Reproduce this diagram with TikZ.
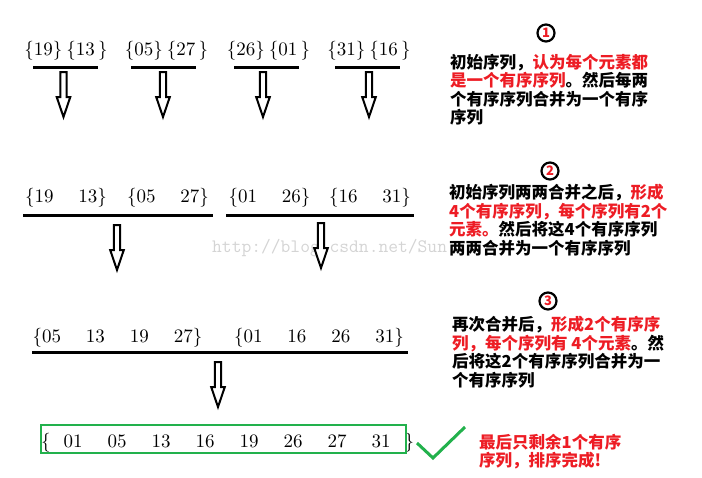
\documentclass[tikz,border=0pt]{standalone}
\usepackage{fontspec}
\newfontfamily\cjk{Noto Sans CJK SC}
\newfontfamily\numfont{lmroman10-regular.otf}
\definecolor{pred}{RGB}{237,28,36}
\definecolor{pgreen}{RGB}{34,177,76}
\newcommand\gp{\hspace{25pt}}

\begin{document}
\begin{tikzpicture}[x=1pt,y=-1pt,
   num/.style={inner sep=0pt,anchor=base,font=\numfont\fontsize{19}{20}\selectfont},
   notetext/.style={inner sep=0pt,anchor=north west,align=left,font=\cjk\bfseries\fontsize{16.5}{18.5}\selectfont},
   badge/.style={circle,draw,line width=2.2pt,minimum size=17pt,inner sep=0pt,text=pred,font=\cjk\bfseries\fontsize{13}{13}\selectfont},
   bar/.style={line width=3pt},
   blockdown/.pic={\draw[line width=2pt,fill=white] (-3.2,0) -- (-3.2,25) -- (-6.8,25) -- (0,45) -- (6.8,25) -- (3.2,25) -- (3.2,0) -- cycle;}]
   \useasboundingbox (0,0) rectangle (702,477);
   % watermark
   \node[inner sep=0pt,anchor=west,text=black!17,font=\ttfamily\fontsize{19}{19}\selectfont] (wm) at (212,248) {http://blog.csdn.net/Sun};
   % row 1
   \node[num] (p1) at (66,55) {\{19\}\hspace{4pt}\{13\,\}};
   \node[num] (p2) at (166.5,55) {\{05\}\hspace{4pt}\{27\,\}};
   \node[num] (p3) at (268.5,55) {\{26\}\hspace{4pt}\{01\,\}};
   \node[num] (p4) at (369,55) {\{31\}\hspace{4pt}\{16\,\}};
   \draw[bar] (33,67) -- (98,67);
   \draw[bar] (131,67) -- (196,67);
   \draw[bar] (234,67) -- (299,67);
   \draw[bar] (335,67) -- (400,67);
   \pic at (63.5,72) {blockdown};
   \pic at (163,72) {blockdown};
   \pic at (263,72) {blockdown};
   \pic at (369,72) {blockdown};
   % row 2
   \node[num] (q1) at (66,202) {\{19\gp13\}};
   \node[num] (q2) at (168,202) {\{05\gp27\}};
   \node[num] (q3) at (269.5,202) {\{01\gp26\}};
   \node[num] (q4) at (370,202) {\{16\gp31\}};
   \draw[bar] (23,215) -- (213,215);
   \draw[bar] (226,215) -- (414,215);
   \pic at (117,225) {blockdown};
   \pic at (321,223) {blockdown};
   % row 3
   \node[num] (h1) at (117.5,342) {\{05\gp13\gp19\gp27\}};
   \node[num] (h2) at (319,342) {\{01\gp16\gp26\gp31\}};
   \draw[bar] (32,352) -- (408,352);
   \pic at (218,362) {blockdown};
   % row 4
   \node[num,anchor=base west] (all) at (41,447) {\{\hspace{13pt}01\gp05\gp13\gp16\gp19\gp26\gp27\gp31\hspace{14pt}\}};
   \draw[pgreen,line width=2.5pt] (41,425) rectangle (406,453);
   \draw[pgreen,line width=3pt] (417,443) -- (433,458) -- (465,427);
   % notes
   \node[badge] (c1) at (546,33) {1};
   \node[notetext] (t1) at (450,54) {初始序列，\textcolor{pred}{认为每个元素都}\\\textcolor{pred}{是一个有序序列}。然后每两\\个有序序列合并为一个有序\\序列};
   \node[badge] (c2) at (550,171) {2};
   \node[notetext] (t2) at (449,184) {初始序列两两合并之后，\textcolor{pred}{形成}\\\textcolor{pred}{4个有序序列，每个序列有2个}\\\textcolor{pred}{元素。}然后将这4个有序序列\\两两合并为一个有序序列};
   \node[badge] (c3) at (548,301) {3};
   \node[notetext] (t3) at (452,316) {再次合并后，\textcolor{pred}{形成2个有序序}\\\textcolor{pred}{列，每个序列有 4个元素}。然\\后将这2个有序序列合并为一\\个有序序列};
   \node[notetext,text=pred] (t4) at (479,434) {最后只剩余1个有序\\序列，排序完成!};
\end{tikzpicture}
\end{document}
